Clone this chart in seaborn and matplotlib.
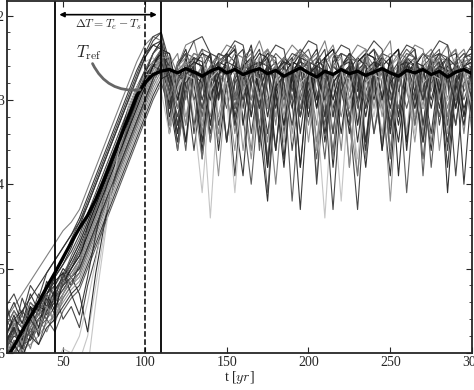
import numpy as np
import pandas as pd
import seaborn as sns
import matplotlib.pyplot as plt

# time grid, every 5 yr
t = np.arange(15, 301, 5)

# reference curve (thick black)
T_ref = [6.08, 5.92, 5.74, 5.57, 5.4, 5.22, 5.05, 4.87, 4.69, 4.52,
         4.37, 4.18, 3.95, 3.7, 3.45, 3.2, 2.95, 2.8, 2.7, 2.66,
         2.64, 2.68, 2.63, 2.67, 2.72, 2.66, 2.62, 2.68, 2.64, 2.7,
         2.66, 2.63, 2.69, 2.65, 2.72, 2.67, 2.62, 2.68, 2.73, 2.66,
         2.7, 2.64, 2.69, 2.66, 2.71, 2.67, 2.63, 2.68, 2.72, 2.65,
         2.68, 2.64, 2.7, 2.66, 2.73, 2.67, 2.64, 2.69]

# ensemble members (rows: 15-60, 65-110, 115-160, 165-210, 215-260, 265-300)
m01 = [5.95, 5.8, 5.85, 5.6, 5.45, 5.3, 5.1, 4.95, 4.75, 4.5,
       4.25, 4.0, 3.75, 3.5, 3.25, 3.0, 2.75, 2.5, 2.35, 2.3,
       3.1, 2.6, 2.4, 2.8, 3.6, 2.7, 2.45, 2.5, 3.0, 2.6,
       2.35, 2.9, 3.8, 2.7, 2.5, 2.6, 3.2, 2.55, 2.4, 2.7,
       3.4, 2.6, 2.45, 2.9, 2.5, 2.4, 3.0, 3.9, 2.7, 2.5,
       2.6, 3.1, 2.5, 2.45, 2.8, 3.3, 2.6, 2.5]
m02 = [6.1, 5.85, 5.95, 5.7, 5.55, 5.45, 5.25, 5.15, 4.95, 4.8,
       4.55, 4.3, 4.05, 3.8, 3.55, 3.3, 3.05, 2.8, 2.55, 2.4,
       2.7, 3.3, 2.9, 2.55, 2.6, 3.5, 2.8, 2.6, 2.7, 3.2,
       4.0, 2.9, 2.6, 2.75, 3.3, 2.7, 2.5, 3.0, 3.7, 2.8,
       2.6, 2.7, 3.2, 2.65, 2.55, 3.4, 2.9, 2.6, 2.75, 4.1,
       2.9, 2.6, 2.7, 3.2, 2.6, 2.55, 2.9, 2.7]
m03 = [5.6, 5.75, 5.5, 5.65, 5.4, 5.55, 5.3, 5.6, 5.45, 5.7,
       5.2, 4.85, 4.45, 4.05, 3.7, 3.35, 3.0, 2.75, 2.55, 2.5,
       3.4, 2.8, 2.5, 3.0, 2.7, 2.45, 3.3, 2.8, 3.9, 2.75,
       2.55, 2.6, 3.1, 2.7, 2.5, 3.6, 2.8, 2.6, 2.7, 3.0,
       2.55, 2.45, 3.2, 4.3, 2.9, 2.6, 2.7, 3.3, 2.65, 2.5,
       2.8, 3.5, 2.7, 2.6, 3.0, 2.55, 2.7, 3.2]
m04 = [6.05, 5.95, 5.75, 5.7, 5.5, 5.4, 5.2, 5.05, 4.9, 4.7,
       4.45, 4.2, 3.95, 3.7, 3.45, 3.2, 2.95, 2.7, 2.45, 2.3,
       2.6, 2.45, 3.0, 2.55, 2.4, 2.8, 3.4, 2.6, 2.45, 2.5,
       3.1, 2.6, 2.4, 2.9, 3.5, 2.6, 2.45, 2.55, 3.0, 2.5,
       2.35, 2.7, 3.8, 2.6, 2.45, 2.6, 3.1, 2.5, 2.4, 2.9,
       3.3, 2.55, 2.45, 2.6, 3.0, 2.5, 2.4, 2.7]
m05 = [5.5, 5.7, 5.9, 6.1, 6.3, 6.3, 6.3, 6.25, 6.2, 6.1,
       5.8, 5.2, 4.6, 4.0, 3.5, 3.05, 2.75, 2.55, 2.5, 2.75,
       3.2, 2.7, 2.5, 2.6, 3.0, 4.4, 2.9, 2.6, 2.7, 3.3,
       2.65, 2.5, 2.9, 3.6, 2.7, 2.55, 2.6, 3.1, 2.6, 2.5,
       3.0, 4.2, 2.8, 2.6, 2.7, 3.2, 2.6, 2.5, 2.9, 3.5,
       2.7, 2.55, 2.65, 3.0, 2.6, 2.5, 2.8, 3.1]
m06 = [5.85, 5.7, 5.8, 5.65, 5.5, 5.35, 5.3, 5.15, 5.05, 4.9,
       4.65, 4.4, 4.15, 3.9, 3.65, 3.4, 3.15, 2.9, 2.65, 2.5,
       3.0, 2.7, 3.5, 2.8, 2.6, 2.7, 3.2, 2.65, 2.55, 3.0,
       3.7, 2.8, 2.6, 2.7, 3.3, 2.7, 2.55, 2.65, 3.9, 2.8,
       2.6, 2.7, 3.1, 2.6, 2.5, 2.8, 3.4, 2.7, 2.6, 2.65,
       3.2, 2.7, 2.55, 3.6, 2.8, 2.6, 2.7, 3.0]
m07 = [5.8, 5.6, 5.7, 5.45, 5.55, 5.3, 5.2, 5.0, 5.1, 5.3,
       5.75, 5.05, 4.5, 4.05, 3.65, 3.3, 3.0, 2.75, 2.6, 2.65,
       3.0, 3.6, 2.9, 2.7, 2.8, 3.4, 2.8, 2.65, 3.1, 2.75,
       2.6, 3.3, 4.2, 2.9, 2.7, 2.8, 3.2, 2.7, 2.6, 3.5,
       2.8, 2.65, 2.7, 3.0, 3.8, 2.8, 2.6, 2.75, 3.3, 2.7,
       2.6, 2.9, 3.6, 2.75, 2.6, 2.7, 3.1, 2.8]
m08 = [5.9, 6.0, 5.85, 5.75, 5.6, 5.5, 5.35, 5.25, 5.1, 5.0,
       4.75, 4.5, 4.25, 4.0, 3.75, 3.5, 3.25, 3.0, 2.75, 2.55,
       2.5, 2.9, 3.6, 2.6, 2.4, 2.45, 3.0, 2.5, 2.35, 2.8,
       3.2, 2.5, 2.4, 2.6, 3.4, 2.55, 2.4, 2.5, 2.9, 3.7,
       2.6, 2.45, 2.5, 3.1, 2.5, 2.4, 2.6, 3.3, 2.55, 2.4,
       2.5, 3.9, 2.6, 2.45, 2.55, 3.0, 2.5, 2.45]
m09 = [5.8, 5.9, 6.05, 5.8, 5.7, 5.5, 5.4, 5.15, 5.0, 4.85,
       4.6, 4.35, 4.1, 3.85, 3.6, 3.35, 3.1, 2.85, 2.6, 2.45,
       2.8, 3.1, 2.7, 2.55, 3.3, 2.7, 2.6, 2.65, 3.0, 2.6,
       2.5, 3.5, 2.75, 2.6, 2.7, 3.1, 2.6, 2.55, 4.0, 2.8,
       2.6, 2.7, 3.2, 2.65, 2.55, 2.7, 3.6, 2.7, 2.55, 2.6,
       3.0, 2.6, 2.5, 3.3, 2.7, 2.6, 2.65, 3.2]
m10 = [5.6, 5.45, 5.3, 5.15, 5.0, 4.85, 4.7, 4.55, 4.45, 4.3,
       4.05, 3.8, 3.55, 3.3, 3.05, 2.8, 2.55, 2.35, 2.25, 2.3,
       3.3, 2.6, 2.35, 2.3, 2.7, 3.5, 2.5, 2.35, 2.4, 2.9,
       2.5, 2.3, 2.6, 3.3, 2.5, 2.35, 2.45, 3.1, 2.5, 2.3,
       2.7, 3.6, 2.5, 2.35, 2.4, 2.8, 2.45, 2.3, 3.2, 2.5,
       2.35, 2.4, 2.9, 2.5, 2.35, 2.6, 3.4, 2.5]
m11 = [6.2, 6.0, 5.8, 5.85, 5.6, 5.45, 5.35, 5.2, 5.0, 4.8,
       4.55, 4.3, 4.05, 3.8, 3.55, 3.3, 3.05, 2.8, 2.6, 2.45,
       2.6, 3.1, 2.7, 2.6, 3.7, 2.8, 2.65, 2.7, 3.2, 2.7,
       2.6, 2.75, 3.4, 2.7, 2.6, 3.0, 4.3, 2.9, 2.7, 2.75,
       3.1, 2.7, 2.6, 3.5, 2.75, 2.6, 2.7, 3.0, 2.65, 2.6,
       3.3, 2.7, 2.6, 2.75, 3.8, 2.8, 2.65, 2.9]
m12 = [5.95, 5.75, 5.9, 5.6, 5.55, 5.6, 5.35, 5.2, 5.1, 4.95,
       4.7, 4.45, 4.2, 3.95, 3.7, 3.45, 3.2, 2.95, 2.7, 2.55,
       2.9, 2.6, 3.2, 2.75, 2.6, 2.9, 3.9, 2.8, 2.6, 2.7,
       3.0, 2.6, 2.55, 3.2, 2.7, 2.55, 2.6, 3.5, 2.7, 2.6,
       2.9, 2.6, 2.5, 3.3, 2.7, 2.55, 2.8, 4.2, 2.8, 2.6,
       2.7, 3.1, 2.6, 2.55, 3.4, 2.7, 2.6, 2.8]
m13 = [5.95, 5.7, 5.75, 5.5, 5.4, 5.3, 5.15, 5.05, 5.2, 4.95,
       4.5, 4.25, 4.0, 3.75, 3.5, 3.25, 3.0, 2.75, 2.6, 2.55,
       3.2, 2.75, 2.6, 2.7, 3.1, 2.65, 3.6, 2.8, 2.6, 2.65,
       3.0, 2.6, 2.5, 2.8, 3.3, 2.65, 2.55, 2.6, 3.1, 2.6,
       3.8, 2.8, 2.6, 2.7, 3.2, 2.65, 2.55, 2.9, 3.5, 2.7,
       2.6, 2.65, 3.0, 2.6, 4.1, 2.8, 2.6, 2.7]
m14 = [6.2, 6.1, 5.9, 5.85, 5.7, 5.6, 5.45, 5.3, 5.15, 5.05,
       4.8, 4.55, 4.3, 4.05, 3.8, 3.55, 3.3, 3.05, 2.8, 2.6,
       2.9, 3.4, 2.7, 2.55, 2.6, 3.0, 2.6, 2.5, 3.3, 2.65,
       2.5, 2.6, 3.7, 2.7, 2.55, 2.6, 3.0, 2.6, 2.5, 2.8,
       3.4, 2.6, 2.5, 2.55, 3.1, 2.6, 2.5, 3.6, 2.7, 2.55,
       2.6, 3.0, 2.6, 2.5, 2.7, 3.3, 2.6, 2.55]
m15 = [5.7, 5.5, 5.65, 5.4, 5.5, 5.25, 5.1, 4.95, 4.8, 4.6,
       4.35, 4.1, 3.85, 3.6, 3.35, 3.1, 2.85, 2.65, 2.55, 2.6,
       3.0, 2.7, 2.8, 3.6, 2.8, 2.65, 2.7, 3.1, 2.7, 2.6,
       3.4, 2.75, 2.6, 2.7, 3.0, 2.65, 3.8, 2.8, 2.65, 2.7,
       3.2, 2.7, 2.6, 2.8, 3.5, 2.7, 2.6, 2.7, 3.1, 2.65,
       2.6, 3.3, 2.7, 2.6, 2.7, 3.9, 2.8, 2.7]
m16 = [6.05, 5.85, 5.9, 5.65, 5.6, 5.45, 5.35, 5.2, 5.05, 4.9,
       4.65, 4.4, 4.15, 3.9, 3.65, 3.4, 3.15, 2.9, 2.65, 2.45,
       2.45, 2.7, 3.3, 2.6, 2.45, 2.55, 3.0, 2.5, 2.4, 2.9,
       3.6, 2.6, 2.45, 2.55, 3.1, 2.5, 2.4, 2.7, 3.3, 2.55,
       2.45, 2.5, 3.0, 2.5, 2.4, 2.85, 3.5, 2.6, 2.45, 2.5,
       3.1, 2.5, 2.4, 2.6, 3.2, 2.55, 2.45, 2.6]
m17 = [5.8, 5.6, 5.5, 5.35, 5.2, 5.05, 4.9, 4.75, 4.6, 4.4,
       4.15, 3.9, 3.65, 3.4, 3.15, 2.9, 2.65, 2.45, 2.35, 2.4,
       3.1, 2.6, 2.45, 3.4, 2.6, 2.45, 2.5, 2.9, 2.5, 2.4,
       3.2, 2.6, 2.45, 2.5, 3.7, 2.6, 2.45, 2.5, 3.0, 2.5,
       2.4, 2.9, 3.3, 2.55, 2.45, 2.5, 3.0, 2.5, 2.4, 3.5,
       2.6, 2.45, 2.55, 3.1, 2.5, 2.45, 2.6, 3.0]
m18 = [6.2, 6.1, 5.95, 5.9, 5.8, 5.65, 5.55, 5.4, 5.25, 5.15,
       4.9, 4.65, 4.4, 4.15, 3.9, 3.65, 3.4, 3.15, 2.9, 2.7,
       2.6, 2.8, 3.3, 2.75, 2.6, 3.0, 2.7, 2.6, 2.65, 3.6,
       2.8, 2.6, 2.7, 3.2, 2.7, 2.6, 2.7, 3.0, 2.65, 3.4,
       2.75, 2.6, 2.7, 3.9, 2.8, 2.65, 2.7, 3.1, 2.7, 2.6,
       2.9, 3.5, 2.75, 2.6, 2.7, 3.0, 2.7, 2.65]
m19 = [5.9, 5.65, 5.8, 5.55, 5.45, 5.5, 5.25, 5.1, 4.95, 4.75,
       4.5, 4.25, 4.0, 3.75, 3.5, 3.25, 3.0, 2.75, 2.55, 2.45,
       2.7, 3.0, 2.6, 2.5, 3.5, 2.7, 2.55, 2.6, 3.1, 2.6,
       2.5, 2.9, 2.6, 3.6, 2.7, 2.55, 2.6, 3.2, 2.6, 2.5,
       2.7, 3.4, 2.65, 2.5, 2.6, 3.0, 2.6, 2.5, 3.9, 2.7,
       2.55, 2.6, 3.1, 2.6, 2.5, 2.8, 3.3, 2.6]
m20 = [6.0, 5.9, 5.75, 5.8, 5.6, 5.5, 5.4, 5.25, 5.1, 5.0,
       4.75, 4.5, 4.25, 4.0, 3.75, 3.5, 3.25, 3.0, 2.75, 2.6,
       3.4, 2.8, 2.65, 2.7, 3.1, 2.7, 2.6, 3.5, 2.8, 2.65,
       2.7, 3.0, 4.1, 2.8, 2.65, 2.7, 3.2, 2.7, 2.6, 2.9,
       3.6, 2.75, 2.6, 2.7, 3.0, 2.7, 2.6, 3.3, 2.75, 2.6,
       2.7, 3.7, 2.8, 2.65, 2.7, 3.0, 2.7, 2.6]
m21 = [5.4, 5.75, 5.35, 5.6, 5.3, 5.45, 5.05, 4.9, 4.65, 4.45,
       4.2, 3.95, 3.7, 3.45, 3.2, 2.95, 2.7, 2.45, 2.25, 2.2,
       2.55, 3.0, 2.6, 2.45, 2.5, 3.3, 2.6, 2.45, 2.55, 3.1,
       2.55, 2.4, 2.9, 3.6, 2.6, 2.45, 2.5, 3.0, 2.55, 2.4,
       3.2, 2.6, 2.45, 2.55, 3.5, 2.6, 2.45, 2.5, 2.9, 2.5,
       2.4, 3.3, 2.6, 2.45, 2.5, 3.0, 2.5, 2.45]
m22 = [6.0, 5.6, 5.9, 5.5, 5.8, 5.45, 5.65, 5.35, 5.2, 5.1,
       4.85, 4.6, 4.35, 4.1, 3.85, 3.6, 3.35, 3.1, 2.85, 2.65,
       2.7, 3.6, 2.9, 2.7, 2.75, 3.2, 2.7, 2.6, 3.4, 2.8,
       2.65, 2.7, 3.0, 4.0, 2.85, 2.7, 2.75, 3.3, 2.7, 2.6,
       2.8, 3.2, 2.7, 2.6, 3.7, 2.8, 2.65, 2.7, 3.1, 2.7,
       2.6, 2.9, 3.5, 2.75, 2.65, 2.7, 3.2, 2.7]
m23 = [5.85, 5.7, 5.95, 5.45, 5.8, 5.35, 5.55, 5.1, 4.9, 4.7,
       4.45, 4.2, 3.95, 3.7, 3.45, 3.2, 2.95, 2.7, 2.45, 2.3,
       2.8, 3.4, 2.65, 2.5, 2.55, 3.0, 2.55, 2.45, 3.2, 3.9,
       2.7, 2.55, 2.6, 3.1, 2.6, 2.5, 3.4, 2.7, 2.55, 2.6,
       3.0, 2.6, 2.5, 2.7, 3.6, 2.65, 2.5, 2.6, 3.2, 2.6,
       2.5, 2.8, 3.4, 2.65, 2.5, 2.6, 4.0, 2.8]
m24 = [6.3, 6.1, 6.3, 6.05, 6.2, 6.0, 6.15, 5.95, 6.0, 5.8,
       5.4, 4.9, 4.4, 3.95, 3.55, 3.2, 2.9, 2.7, 2.55, 2.6,
       3.0, 2.7, 2.6, 3.2, 4.1, 2.9, 2.7, 2.8, 3.3, 2.75,
       2.65, 3.0, 2.7, 2.6, 3.5, 2.8, 2.65, 2.7, 3.1, 4.4,
       2.9, 2.7, 2.75, 3.2, 2.7, 2.6, 3.0, 3.6, 2.8, 2.65,
       2.7, 3.1, 2.7, 2.6, 3.3, 2.75, 2.65, 2.9]
m25 = [5.8, 5.55, 5.85, 5.45, 5.7, 5.3, 5.5, 5.15, 5.0, 4.85,
       4.6, 4.35, 4.1, 3.85, 3.6, 3.35, 3.1, 2.85, 2.6, 2.4,
       2.45, 2.9, 3.5, 2.6, 2.45, 2.5, 2.95, 2.5, 2.4, 3.3,
       2.6, 2.45, 2.5, 2.9, 3.8, 2.7, 2.5, 2.55, 3.1, 2.5,
       2.4, 2.7, 3.4, 2.55, 2.45, 2.5, 3.0, 2.5, 2.4, 3.6,
       2.6, 2.45, 2.5, 2.9, 2.5, 2.4, 3.2, 2.55]
m26 = [6.1, 5.75, 6.0, 5.7, 5.9, 5.6, 5.75, 5.5, 5.35, 5.25,
       5.0, 4.75, 4.5, 4.25, 4.0, 3.75, 3.5, 3.25, 3.0, 2.8,
       3.1, 2.75, 2.65, 3.3, 2.75, 2.6, 2.7, 3.5, 2.8, 2.65,
       2.7, 3.1, 2.7, 2.6, 2.8, 4.2, 2.9, 2.7, 2.75, 3.2,
       2.7, 2.6, 3.0, 2.7, 2.6, 3.4, 2.75, 2.65, 2.7, 3.1,
       2.7, 2.6, 3.8, 2.8, 2.65, 2.7, 3.0, 2.7]
m27 = [5.45, 5.3, 5.55, 5.2, 5.35, 5.05, 4.9, 4.75, 4.6, 4.45,
       4.25, 4.0, 3.75, 3.5, 3.25, 3.0, 2.75, 2.5, 2.3, 2.2,
       2.7, 3.3, 2.5, 2.3, 2.25, 2.45, 3.0, 2.45, 2.3, 2.35,
       2.8, 3.5, 2.5, 2.35, 2.4, 2.9, 2.45, 2.3, 2.35, 3.2,
       2.5, 2.35, 2.4, 2.85, 2.45, 2.3, 2.4, 3.4, 2.5, 2.35,
       2.4, 2.9, 2.45, 2.3, 2.35, 3.1, 2.5, 2.35]
m28 = [5.85, 6.1, 5.7, 5.95, 5.6, 5.75, 5.5, 5.35, 5.2, 5.05,
       4.8, 4.55, 4.3, 4.05, 3.8, 3.55, 3.3, 3.05, 2.8, 2.6,
       2.9, 2.65, 2.55, 3.0, 3.7, 2.8, 2.6, 2.65, 3.1, 2.65,
       2.55, 3.3, 2.7, 2.6, 2.65, 3.0, 2.6, 2.55, 3.5, 2.75,
       2.6, 2.65, 3.2, 3.9, 2.8, 2.6, 2.7, 3.0, 2.6, 2.55,
       3.3, 2.7, 2.6, 2.65, 3.1, 2.65, 2.55, 3.4]
m29 = [5.6, 5.4, 5.65, 5.3, 5.5, 5.15, 5.35, 5.05, 5.3, 5.55,
       5.1, 4.6, 4.15, 3.75, 3.4, 3.1, 2.85, 2.7, 2.6, 2.65,
       2.9, 3.5, 2.8, 2.65, 2.7, 3.0, 2.7, 2.6, 3.3, 2.75,
       2.65, 2.7, 3.8, 2.85, 2.7, 2.75, 3.1, 2.7, 2.6, 3.4,
       2.8, 2.65, 2.7, 3.0, 2.7, 2.6, 3.6, 2.8, 2.65, 2.7,
       3.1, 2.7, 2.6, 2.9, 3.5, 2.75, 2.65, 2.7]
m30 = [5.9, 6.0, 5.8, 5.7, 5.75, 5.5, 5.6, 5.3, 5.1, 4.9,
       4.65, 4.4, 4.15, 3.9, 3.65, 3.4, 3.15, 2.9, 2.65, 2.5,
       3.3, 2.7, 2.55, 2.6, 3.0, 2.6, 2.5, 2.9, 3.6, 2.65,
       2.5, 2.6, 3.1, 2.6, 2.5, 3.4, 2.65, 2.5, 2.6, 2.95,
       2.6, 2.5, 3.8, 2.7, 2.55, 2.6, 3.2, 2.6, 2.5, 2.8,
       3.5, 2.65, 2.5, 2.6, 3.0, 2.6, 2.5, 2.9]
m31 = [6.3, 6.2, 6.3, 6.25, 6.3, 6.2, 6.3, 6.15, 6.3, 6.1,
       6.2, 5.4, 4.7, 4.0, 3.5, 3.1, 2.85, 2.7, 2.7, 2.9,
       3.4, 2.85, 2.7, 2.75, 3.3, 2.75, 2.65, 3.0, 4.1, 2.9,
       2.7, 2.75, 3.2, 2.75, 2.65, 3.5, 2.8, 2.7, 2.75, 3.1,
       2.75, 2.65, 3.0, 3.7, 2.8, 2.7, 2.75, 3.2, 2.7, 2.65,
       3.4, 2.8, 2.7, 2.75, 3.0, 2.7, 2.65, 3.1]
m32 = [5.95, 5.75, 5.55, 5.8, 5.45, 5.6, 5.3, 5.1, 4.85, 4.65,
       4.4, 4.15, 3.9, 3.65, 3.4, 3.15, 2.9, 2.65, 2.45, 2.35,
       2.9, 2.55, 2.45, 2.5, 3.2, 2.6, 2.45, 2.5, 2.95, 2.5,
       2.4, 3.6, 2.6, 2.45, 2.55, 3.0, 2.5, 2.4, 2.7, 3.3,
       2.55, 2.45, 2.5, 3.0, 2.5, 2.4, 2.55, 3.7, 2.6, 2.45,
       2.5, 3.0, 2.5, 2.4, 3.3, 2.55, 2.45, 2.5]
m33 = [5.9, 5.7, 5.95, 5.6, 5.75, 5.5, 5.35, 5.2, 5.1, 5.0,
       4.75, 4.5, 4.25, 4.0, 3.75, 3.5, 3.25, 3.0, 2.75, 2.55,
       2.8, 3.2, 2.7, 2.6, 3.0, 2.65, 2.55, 3.5, 2.75, 2.6,
       2.65, 3.1, 2.65, 2.55, 2.8, 3.3, 2.65, 2.55, 2.6, 3.0,
       4.3, 2.9, 2.65, 2.7, 3.1, 2.65, 2.55, 3.4, 2.7, 2.6,
       2.65, 3.0, 2.65, 2.55, 3.6, 2.75, 2.6, 2.65]
m34 = [5.7, 5.5, 5.7, 5.4, 5.55, 5.3, 5.4, 5.15, 4.95, 4.8,
       4.55, 4.3, 4.05, 3.8, 3.55, 3.3, 3.05, 2.8, 2.55, 2.4,
       3.0, 2.6, 2.5, 2.55, 3.4, 2.6, 2.5, 2.55, 3.0, 2.55,
       2.45, 2.8, 3.5, 2.6, 2.5, 2.55, 3.1, 2.55, 2.45, 2.6,
       3.7, 2.65, 2.5, 2.55, 3.0, 2.55, 2.45, 3.2, 2.6, 2.5,
       2.55, 3.4, 2.6, 2.5, 2.55, 3.0, 2.55, 2.5]
m35 = [6.15, 5.9, 6.05, 5.8, 5.9, 5.7, 5.6, 5.45, 5.3, 5.2,
       4.95, 4.7, 4.45, 4.2, 3.95, 3.7, 3.45, 3.2, 2.95, 2.75,
       2.7, 3.0, 2.65, 2.55, 2.6, 3.3, 2.7, 2.55, 2.6, 3.0,
       2.6, 2.55, 3.2, 2.65, 2.55, 2.6, 3.8, 2.7, 2.6, 2.65,
       3.0, 2.6, 2.55, 3.3, 2.65, 2.55, 2.6, 3.1, 2.6, 2.55,
       2.9, 3.5, 2.7, 2.6, 2.65, 3.1, 2.6, 2.55]
m36 = [5.8, 5.65, 5.9, 5.5, 5.75, 5.45, 5.6, 5.3, 5.1, 4.95,
       4.7, 4.45, 4.2, 3.95, 3.7, 3.45, 3.2, 2.95, 2.7, 2.5,
       2.5, 3.1, 2.6, 2.45, 2.5, 2.9, 3.5, 2.6, 2.45, 2.5,
       3.0, 2.5, 2.4, 2.6, 3.2, 2.55, 2.45, 2.5, 3.6, 2.6,
       2.45, 2.5, 2.9, 2.5, 2.4, 3.1, 2.55, 2.45, 2.5, 3.4,
       2.55, 2.45, 2.5, 3.0, 2.5, 2.4, 2.7, 3.3]

members = [m01, m02, m03, m04, m05, m06, m07, m08, m09, m10,
           m11, m12, m13, m14, m15, m16, m17, m18, m19, m20,
           m21, m22, m23, m24, m25, m26, m27, m28, m29, m30,
           m31, m32, m33, m34, m35, m36]

# markers of the transition
t_s, t_dash, t_e = 45, 100, 110


def main():
    sns.set_style("ticks")
    plt.rcParams['font.family'] = ['Liberation Serif', 'DejaVu Serif']
    plt.rcParams['mathtext.fontset'] = 'cm'

    rows = []
    for i, m in enumerate(members):
        assert len(m) == len(t), i
        rows.append(pd.DataFrame({'t': t, 'T': m, 'member': i}))
    df = pd.concat(rows)

    # mostly dark greys, a few light ones
    shades = np.tile([0.1, 0.3, 0.2, 0.45, 0.15, 0.55], 6)[:len(members)]
    shades[[4, 23, 30]] = 0.75
    grays = [str(g) for g in shades]

    fig = plt.figure(figsize=(4.74, 3.90), dpi=100)
    ax = fig.add_axes([0.014, 0.095, 0.982, 0.902])

    sns.lineplot(data=df, x='t', y='T', hue='member', palette=grays,
                 lw=0.8, alpha=0.9, legend=False, ax=ax)
    sns.lineplot(x=t, y=T_ref, color='black', lw=2.4, ax=ax)

    ax.axvline(t_s, color='black', lw=1.3)
    ax.axvline(t_e, color='black', lw=1.3)
    ax.axvline(t_dash, color='black', lw=1.1, ls='--')

    ax.set_xlim(15.5, 300)
    ax.set_ylim(6.0, 1.83)
    ax.set_xticks([50, 100, 150, 200, 250, 300])
    ax.set_yticks([2, 3, 4, 5, 6])
    ax.set_yticks(np.arange(2, 6.01, 0.2), minor=True)
    ax.tick_params(direction='in', top=True, right=True, labelsize=10,
                   width=0.8, length=4, pad=2)
    ax.tick_params(which='minor', direction='in', right=True, length=2)
    for s in ax.spines.values():
        s.set_linewidth(1.3)

    ax.set_xlabel('t [$\\mathit{yr}$]', fontsize=10, labelpad=0)
    ax.set_ylabel('')

    ax.annotate('', xy=(t_s + 1, 1.99), xytext=(t_e - 1, 1.99),
                arrowprops=dict(arrowstyle='<|-|>', color='black', lw=1.2,
                                mutation_scale=7))
    ax.text(78, 2.11, '$\\Delta T = T_e - T_s$',
            ha='center', va='center', fontsize=8.5)
    ax.text(66, 2.44, '$T_{\\mathrm{ref}}$', ha='center', va='center',
            fontsize=12)
    ax.annotate('', xy=(t_dash - 3, 2.88), xytext=(68, 2.57),
                arrowprops=dict(arrowstyle='-', color='0.4', lw=2,
                                shrinkA=0, shrinkB=0,
                                connectionstyle='arc3,rad=0.35'))

    plt.savefig('out.png', dpi=100)


if __name__ == "__main__":
    main()
